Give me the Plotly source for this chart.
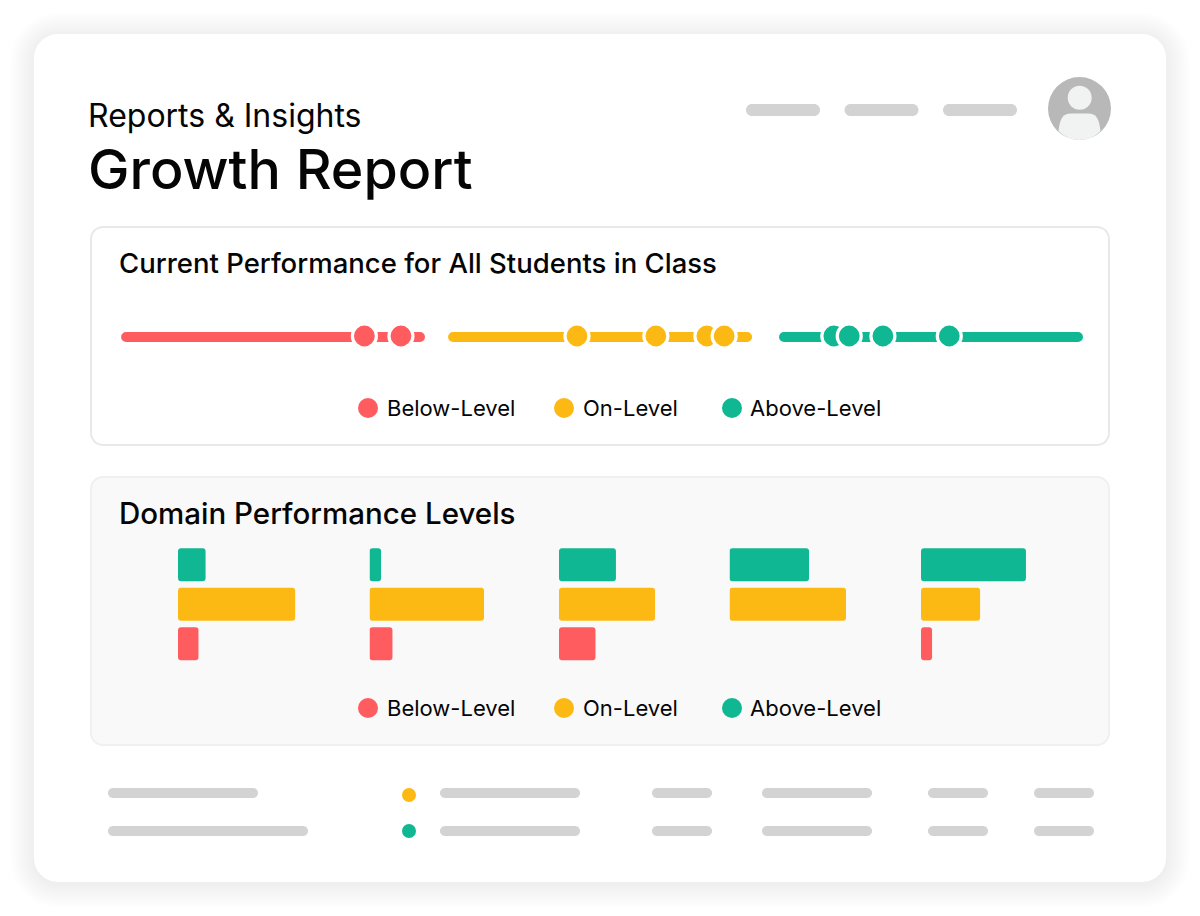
import plotly.graph_objects as go

W, H = 1200, 916

RED = "#ff5c60"
YELLOW = "#fdb913"
GREEN = "#0fb892"
GREY = "#d4d3d4"
FONT = "Inter"

LEVELS = ["Above-Level", "On-Level", "Below-Level"]
LEGEND = ["Below-Level", "On-Level", "Above-Level"]

# current performance: score bands and student scores (0-100 scale)
band_start = [0.01, 34.0, 68.4]
band_end = [31.6, 65.6, 100]
below_scores = [25.3, 29.1]
on_scores = [47.4, 55.6, 60.9, 62.7]
above_scores = [74.1, 75.7, 79.2, 86.1]

# domain performance, share of students per domain
above_share = [16.7, 7.0, 34.5, 48.2, 63.6]
on_share = [71.0, 69.4, 58.2, 70.6, 35.8]
below_share = [12.4, 13.9, 22.1, 0, 6.7]


def px(x):
    return x / W


def py(y):
    return 1 - y / H


def rrect(x0, y0, x1, y1, r, fill, line=None, line_width=0, opacity=1):
    # rounded rectangle as a path, page pixels
    k = r * 0.45
    pts = [
        f"M{px(x0 + r)},{py(y0)}", f"L{px(x1 - r)},{py(y0)}",
        f"C{px(x1 - k)},{py(y0)} {px(x1)},{py(y0 + k)} {px(x1)},{py(y0 + r)}",
        f"L{px(x1)},{py(y1 - r)}",
        f"C{px(x1)},{py(y1 - k)} {px(x1 - k)},{py(y1)} {px(x1 - r)},{py(y1)}",
        f"L{px(x0 + r)},{py(y1)}",
        f"C{px(x0 + k)},{py(y1)} {px(x0)},{py(y1 - k)} {px(x0)},{py(y1 - r)}",
        f"L{px(x0)},{py(y0 + r)}",
        f"C{px(x0)},{py(y0 + k)} {px(x0 + k)},{py(y0)} {px(x0 + r)},{py(y0)}", "Z",
    ]
    return dict(type="path", path=" ".join(pts), xref="paper", yref="paper", layer="below",
                fillcolor=fill, opacity=opacity,
                line=dict(color=line or fill, width=line_width))


def dot(cx, cy, r, fill):
    return dict(type="circle", xref="paper", yref="paper", layer="below",
                x0=px(cx - r), x1=px(cx + r), y0=py(cy - r), y1=py(cy + r),
                fillcolor=fill, line=dict(width=0))


def label(text, x, y, size, weight=400, color="#050505"):
    return dict(text=text, x=px(x), y=py(y), xref="paper", yref="paper", xanchor="left",
                yanchor="middle", showarrow=False,
                font=dict(family=FONT, size=size, color=color, weight=weight))


shapes = []

# soft shadow around the white page card
for i in range(16):
    grow = 24 - i * 1.5
    shapes.append(rrect(34 - grow, 36 - grow, 1166 + grow, 884 + grow, 24 + grow, "#000000",
                        opacity=0.004))
shapes.append(rrect(34, 34, 1166, 882, 24, "#ffffff"))

# header placeholders and avatar
for x0, x1 in [(746, 820), (844.5, 918.5), (943, 1017)]:
    shapes.append(rrect(x0, 104, x1, 116, 6, GREY))
shapes.append(dot(1079.5, 108.5, 31.5, "#b8b8b8"))
shapes.append(dot(1079.7, 97.7, 12, "#f1f2f2"))
body = [(1058.5, 131), (1060, 118), (1063, 113.5), (1071, 113.5), (1088, 113.5), (1096, 113.5),
        (1099, 118), (1100.5, 131), (1092, 140), (1079.5, 140), (1067, 140), (1058.5, 131)]
b = [f"{px(x)},{py(y)}" for x, y in body]
shapes.append(dict(type="path", xref="paper", yref="paper", layer="below",
                   path=f"M{b[0]} C{b[1]} {b[2]} {b[3]} L{b[4]} C{b[5]} {b[6]} {b[7]} "
                        f"Q{b[8]} {b[9]} Q{b[10]} {b[11]} Z",
                   fillcolor="#f1f2f2", line=dict(width=0)))

# the two panels
shapes.append(rrect(91, 227, 1109, 445, 12, "#ffffff", "#e9e9e9", 2))
shapes.append(rrect(91, 477, 1109, 745, 12, "#f9f9f9", "#f0f0f0", 2))

# table placeholders below the panels
for y0, rows in [(788, [(108, 258), (440, 580)]), (826, [(108, 308), (440, 580)])]:
    for x0, x1 in rows + [(652, 712), (762, 872), (928, 988), (1034, 1094)]:
        shapes.append(rrect(x0, y0, x1, y0 + 10, 5, GREY))
shapes.append(dot(409, 795, 7, YELLOW))
shapes.append(dot(409, 831, 7, GREEN))

annotations = [
    label("Reports &amp; Insights", 86, 115.5, 32),
    label("Growth Report", 85.5, 169, 55.5, 500),
    label("Current Performance for All Students in Class", 117, 263, 27.5, 500),
    label("Domain Performance Levels", 117, 513, 29.5, 500),
]

# both legends
for cy in (408, 708):
    for name, color, cx, tx in zip(LEGEND, [RED, YELLOW, GREEN], (368, 564, 732), (385, 581, 747.5)):
        shapes.append(dot(cx, cy, 10, color))
        annotations.append(label(name, tx, cy, 22))

fig = go.Figure()

# performance strip, bars with a nonzero base get all four corners rounded
scores = [below_scores, on_scores, above_scores]
for start, end, color in zip(band_start, band_end, [RED, YELLOW, GREEN]):
    fig.add_trace(go.Bar(y=[0], x=[end - start], base=[start], orientation="h", width=[0.5],
                         offset=[-0.3], marker=dict(color=color, cornerradius=5, line_width=0),
                         xaxis="x", yaxis="y", showlegend=False))
for pts, color in zip(scores, [RED, YELLOW, GREEN]):
    fig.add_trace(go.Scatter(x=pts, y=[0] * len(pts), mode="markers", xaxis="x", yaxis="y",
                             marker=dict(size=24, color=color, line=dict(color="#ffffff", width=3.2)),
                             showlegend=False))

# one small bar plot per domain
domain_left = [178, 369.5, 559, 729.5, 921]
layout_axes = {}
for i, left in enumerate(domain_left):
    ax = f"x{i + 2}"
    fig.add_trace(go.Bar(y=LEVELS, x=[above_share[i], on_share[i], below_share[i]],
                         base=[0.01, 0.01, 0.01], orientation="h",
                         marker=dict(color=[GREEN, YELLOW, RED], cornerradius=3, line_width=0),
                         xaxis=ax, yaxis="y2", showlegend=False))
    layout_axes[f"xaxis{i + 2}"] = dict(domain=[px(left), px(left + 165)], range=[0, 100],
                                        anchor="y2", visible=False, fixedrange=True)

fig.update_layout(
    width=W, height=H, margin=dict(l=0, r=0, t=0, b=0, pad=0),
    paper_bgcolor="#ffffff", plot_bgcolor="rgba(0,0,0,0)",
    barmode="overlay", bargap=0.165, showlegend=False, hovermode=False,
    shapes=shapes, annotations=annotations,
    xaxis=dict(domain=[px(121), px(1083)], range=[0, 100], visible=False, fixedrange=True),
    yaxis=dict(domain=[py(356), py(316)], range=[-1, 1], visible=False, fixedrange=True),
    yaxis2=dict(domain=[py(663.5), py(545)], type="category", categoryorder="array",
                categoryarray=LEVELS, range=[2.5, -0.5], anchor="x2", visible=False, fixedrange=True),
    **layout_axes,
)

fig.write_html("out.html", config={"displayModeBar": False},
               post_script="document.body.style.margin='0';")
